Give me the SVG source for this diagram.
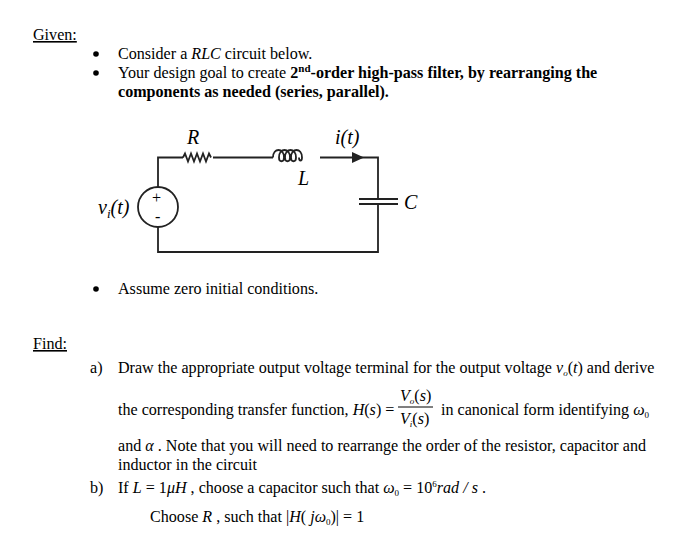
<svg xmlns="http://www.w3.org/2000/svg" width="700" height="539" viewBox="0 0 700 539">
<style>
text{font-family:"Liberation Serif",serif;font-size:16.1px;fill:#000}
.i{font-style:italic}
.w{fill:none;stroke:#222;stroke-width:1.8}
.l{font-size:20px;font-style:italic}
</style>
<rect width="700" height="539" fill="#fff"/>
<text x="33" y="40" text-decoration="underline">Given:</text>
<circle cx="96" cy="54" r="2.8"/><circle cx="96" cy="73" r="2.8"/><circle cx="96" cy="289" r="2.8"/>
<text x="118" y="59">Consider a <tspan class="i">RLC</tspan> circuit below.</text>
<text x="118" y="78">Your design goal to create <tspan font-weight="bold">2<tspan dy="-6" font-size="11">nd</tspan><tspan dy="6">-order high-pass filter, by rearranging the</tspan></tspan></text>
<text x="118" y="97" font-weight="bold">components as needed (series, parallel).</text>
<g id="circuit">
<g id="wires">
<path class="w" d="M183 157.5H158V187M158 227V252H378V204M378 199V157.5H320M273 157.5H213"/>
</g>
<g id="R"><path class="w" stroke-width="1.4" d="M183 157.5l2-4 3 8 3-8 3 8 3-8 3 8 3-8 3 8 3-8 2 4"/><text x="187" y="144" class="l">R</text></g>
<g id="L"><path class="w" stroke-width="1.4" d="M273 157.5c0-10 11-10 11 0c0 5-5 5-5 0c0-10 11-10 11 0c0 5-5 5-5 0c0-10 11-10 11 0c0 5-5 5-5 0c0-10 11-10 11 0c0 4-3 4-3 0"/><text x="298" y="185" class="l">L</text></g>
<g id="arrow"><path d="M352 152L364 157.5 352 163Z" fill="#222"/><text x="335" y="144" class="l">i(t)</text></g>
<g id="C"><path class="w" stroke-width="1.4" d="M359 199H398M359 204H398"/><text x="404" y="209" class="l">C</text></g>
<g id="V"><circle cx="158" cy="207" r="20" class="w" stroke-width="1.4"/><text x="152" y="203" font-size="16">+</text><text x="155" y="222" font-size="13">-</text>
<text x="98" y="214" class="l">v<tspan font-size="13" dy="4">i</tspan><tspan dy="-4">(t)</tspan></text></g>
</g>
<text x="118" y="294">Assume zero initial conditions.</text>
<text x="33" y="349" text-decoration="underline">Find:</text>
<text x="90" y="373">a)</text>
<text x="118" y="373">Draw the appropriate output voltage terminal for the output voltage <tspan class="i">v</tspan><tspan font-size="9" dy="3" class="i">o</tspan><tspan dy="-3">(</tspan><tspan class="i">t</tspan>) and derive</text>
<text x="118" y="415">the corresponding transfer function, <tspan class="i">H</tspan>(<tspan class="i">s</tspan>) =</text>
<text x="400" y="401" class="i">V<tspan font-size="9" dy="3">o</tspan><tspan dy="-3" font-style="normal">(</tspan>s<tspan font-style="normal">)</tspan></text>
<line x1="398" y1="407" x2="433" y2="407" stroke="#000" stroke-width="1"/>
<text x="400" y="424" class="i">V<tspan font-size="9" dy="3">i</tspan><tspan dy="-3" font-style="normal">(</tspan>s<tspan font-style="normal">)</tspan></text>
<text x="441" y="415">in canonical form identifying <tspan class="i">ω</tspan><tspan font-size="9" dy="3">0</tspan></text>
<text x="118" y="451">and <tspan class="i">α</tspan> .  Note that you will need to rearrange the order of the resistor, capacitor and</text>
<text x="118" y="470">inductor in the circuit</text>
<text x="90" y="493">b)</text>
<text x="118" y="493">If <tspan class="i">L</tspan> = 1<tspan class="i">μH</tspan> , choose a capacitor such that <tspan class="i">ω</tspan><tspan font-size="9" dy="3">0</tspan><tspan dy="-3"> = 10</tspan><tspan font-size="9" dy="-6">6</tspan><tspan dy="6" class="i">rad / s</tspan> .</text>
<text x="150" y="522">Choose <tspan class="i">R</tspan> , such that |<tspan class="i">H</tspan>( <tspan class="i">jω</tspan><tspan font-size="9" dy="3">0</tspan><tspan dy="-3">)| = 1</tspan></text>
</svg>
